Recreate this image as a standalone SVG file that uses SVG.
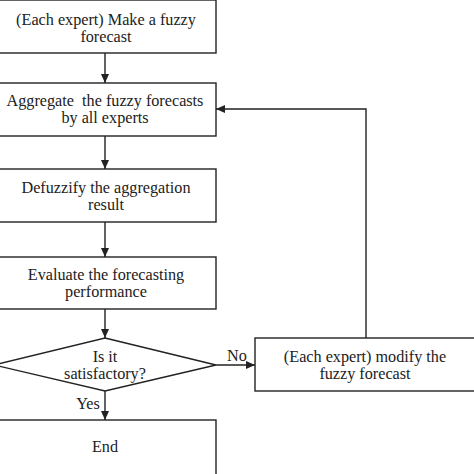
<svg xmlns="http://www.w3.org/2000/svg" width="474" height="474" viewBox="0 0 474 474">
<style>
.b{fill:#fff;stroke:#222;stroke-width:1.4}
.t{font-family:'Liberation Serif', 'Times New Roman', Times, serif;font-size:16.2px;fill:#222;text-anchor:middle}
.c{fill:none;stroke:#222;stroke-width:1.4}
</style>
<defs>
<marker id="a" markerWidth="10" markerHeight="8" refX="9" refY="4" orient="auto" markerUnits="userSpaceOnUse">
<path d="M0,0 L9,4 L0,8 Z" fill="#222"/>
</marker>
</defs>
<rect width="474" height="474" fill="#fff"/>
<g id="n1"><rect class="b" x="-6" y="0" width="222" height="53"/>
<text class="t" x="106" y="25">(Each expert) Make a fuzzy</text>
<text class="t" x="106" y="42">forecast</text></g>
<g id="n2"><rect class="b" x="-6" y="83" width="222" height="53"/>
<text class="t" x="105" y="106" xml:space="preserve">Aggregate  the fuzzy forecasts</text>
<text class="t" x="105" y="123">by all experts</text></g>
<g id="n3"><rect class="b" x="-6" y="169" width="222" height="53"/>
<text class="t" x="106" y="193">Defuzzify the aggregation</text>
<text class="t" x="106" y="210">result</text></g>
<g id="n4"><rect class="b" x="-6" y="257" width="222" height="52"/>
<text class="t" x="106" y="280">Evaluate the forecasting</text>
<text class="t" x="106" y="297">performance</text></g>
<g id="n5"><path class="b" d="M105,338 L216,365 L105,391 L-6,365 Z"/>
<text class="t" x="105" y="362">Is it</text>
<text class="t" x="105" y="379">satisfactory?</text></g>
<g id="n6"><rect class="b" x="-6" y="420" width="222" height="60"/>
<text class="t" x="105" y="452">End</text></g>
<g id="n7"><rect class="b" x="255" y="338" width="222" height="53"/>
<text class="t" x="365" y="362">(Each expert) modify the</text>
<text class="t" x="365" y="379">fuzzy forecast</text></g>
<g id="connectors">
<path class="c" d="M105,53 V83" marker-end="url(#a)"/>
<path class="c" d="M105,136 V169" marker-end="url(#a)"/>
<path class="c" d="M105,222 V257" marker-end="url(#a)"/>
<path class="c" d="M105,309 V338" marker-end="url(#a)"/>
<path class="c" d="M105,391 V420" marker-end="url(#a)"/>
<path class="c" d="M216,365 H255" marker-end="url(#a)"/>
<path class="c" d="M366,338 V109 H216" marker-end="url(#a)"/>
<text class="t" x="237" y="361">No</text>
<text class="t" x="88" y="409">Yes</text>
</g>
</svg>
